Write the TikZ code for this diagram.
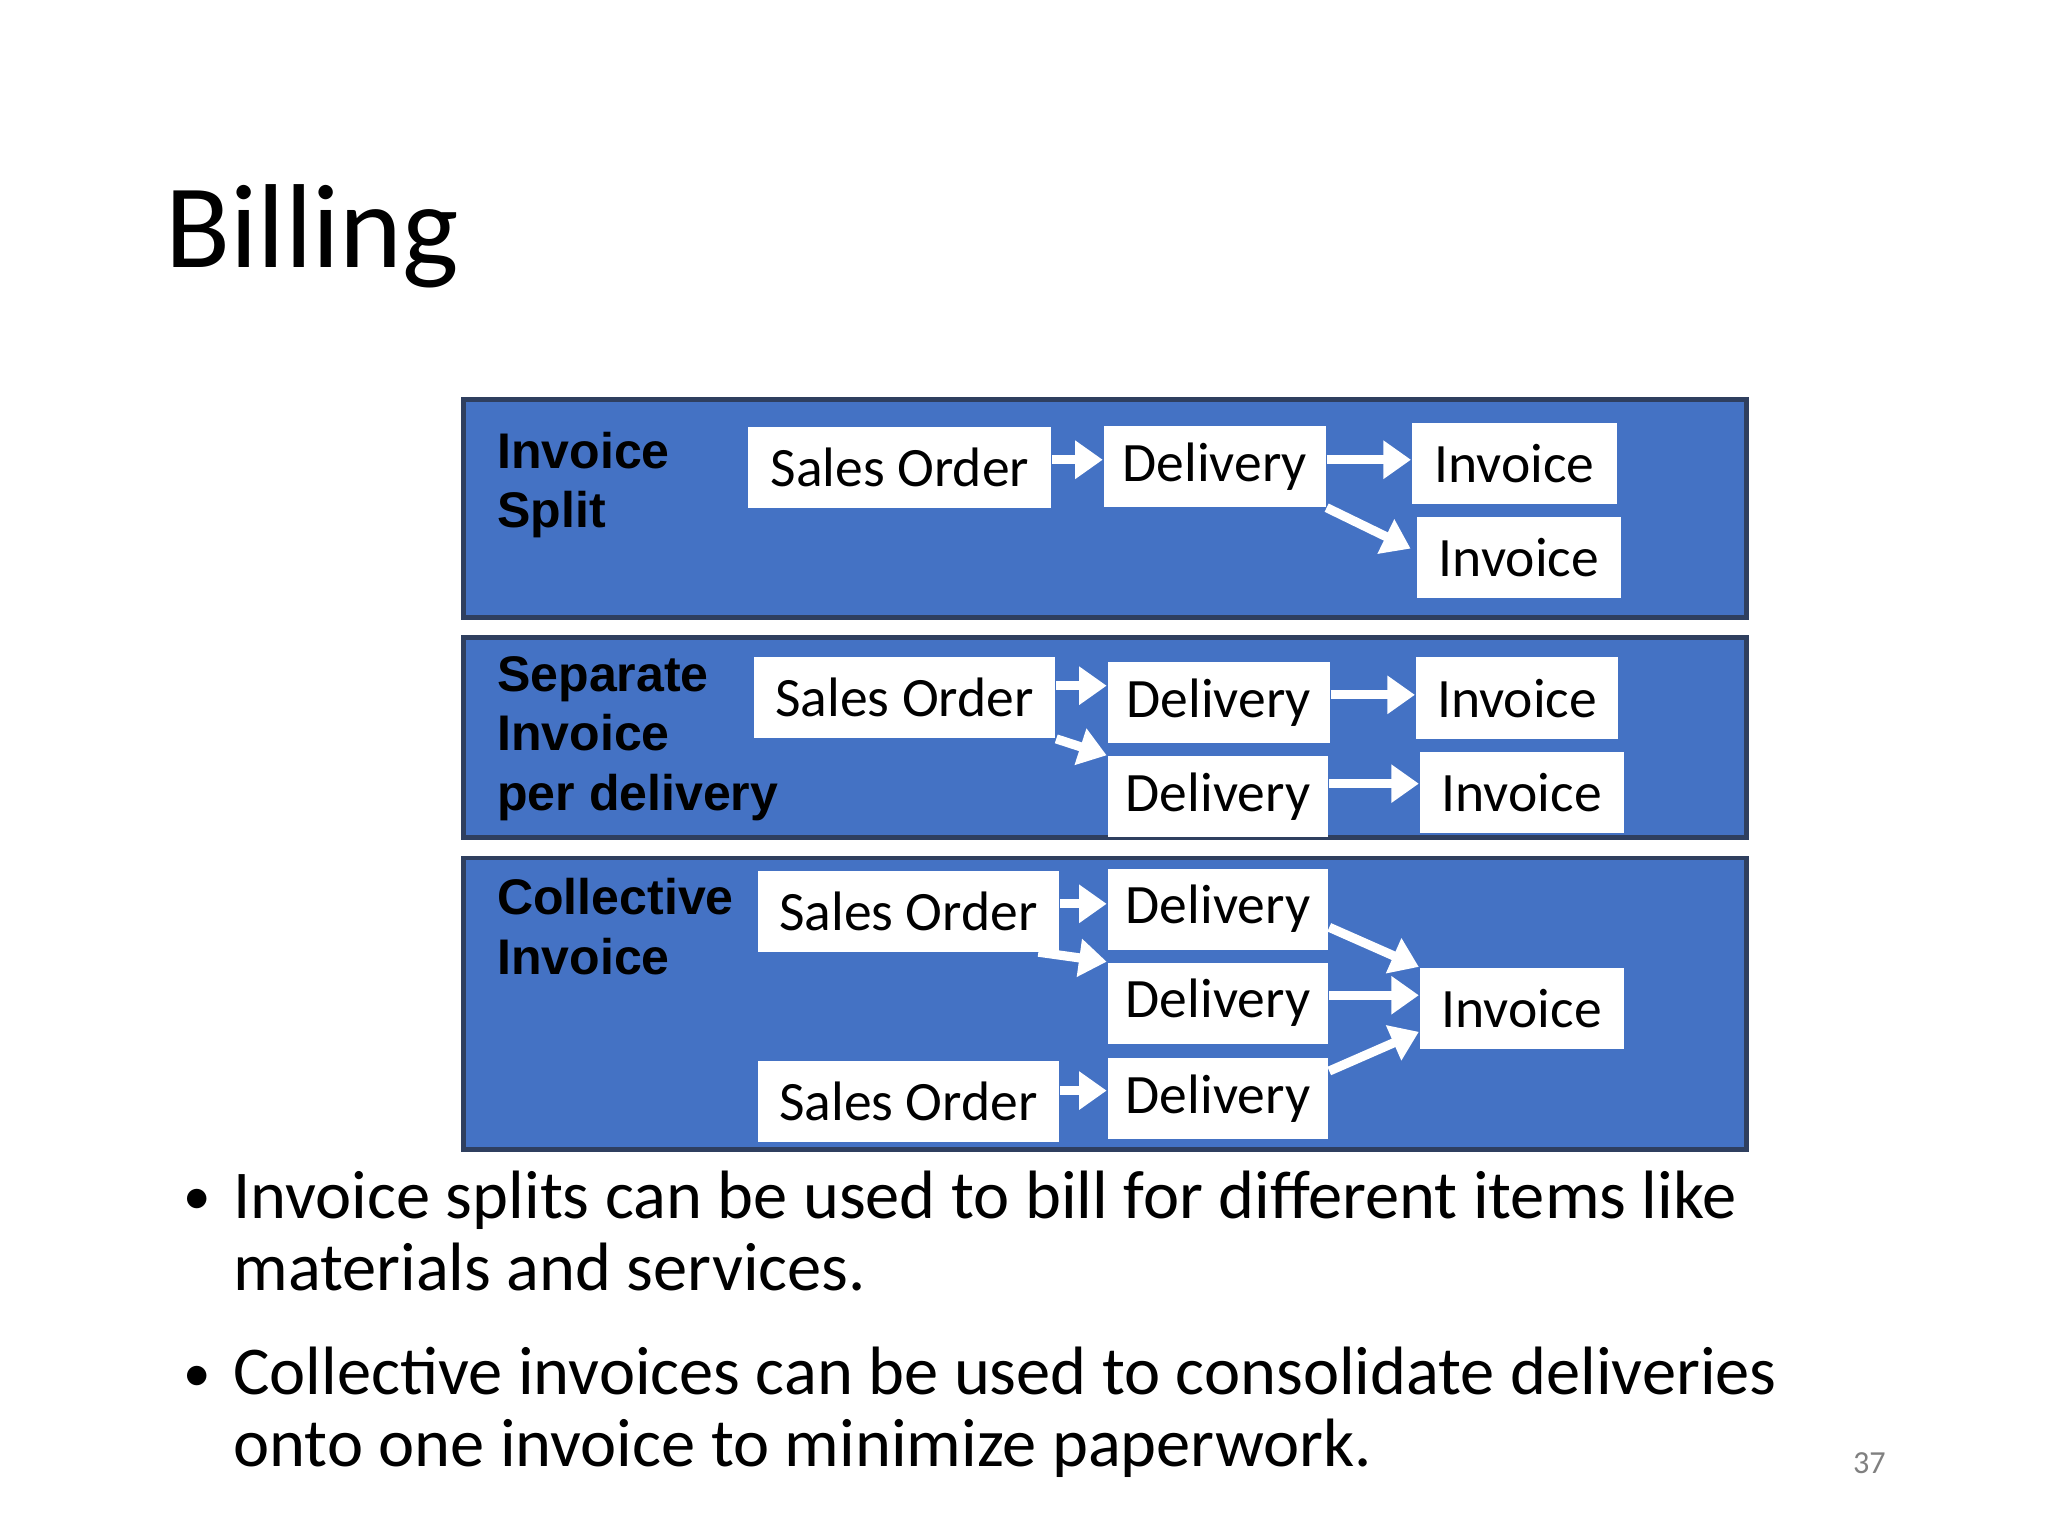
\documentclass[tikz,border=0pt]{standalone}
\usepackage{fontspec}
\setmainfont{Carlito}
\newfontfamily\arialb[Scale=1]{Liberation Sans Bold}
\usetikzlibrary{arrows.meta}
\definecolor{panelblue}{HTML}{4472C4}
\definecolor{paneledge}{HTML}{2F3F5F}
\tikzset{
  panel/.style={draw=paneledge,line width=1pt,fill=panelblue},
  wbox/.style={fill=white,draw=none,inner sep=0pt,font=\fontsize{12.1}{14}\selectfont},
  plabel/.style={anchor=north west,align=left,inner sep=0pt,font=\arialb\fontsize{10.9}{12.9}\selectfont},
  warrow/.style={draw=white,line width=2pt,-{Triangle[length=6pt,width=8pt]}},
}
\newcommand{\bx}[6]{\node[wbox,minimum width={(#4-#2)*0.01cm},minimum height={(#5-#3)*0.01cm}] (#1) at ({(#2+#4)/2},{(#3+#5)/2}) {#6};}
\begin{document}
\begin{tikzpicture}[x=0.01cm,y=-0.01cm]
\useasboundingbox[fill=white] (0,0) rectangle (1568,1176);
\node[anchor=base west,inner sep=0pt,font=\fontsize{26}{28}\selectfont] (title) at (126,205) {Billing};
% panels
\draw[panel] (355,306) rectangle (1337,473);
\draw[panel] (355,488) rectangle (1337,641);
\draw[panel] (355,657) rectangle (1337,880);
\node[plabel] (l1) at (380,330) {Invoice\\Split};
\node[plabel] (l2) at (380,502) {Separate\\Invoice\\per delivery};
\node[plabel] (l3) at (380,672) {Collective\\Invoice};
% panel 1
\bx{a1}{573}{327}{805}{389}{Sales Order}
\bx{a2}{845}{326}{1015}{388}{Delivery}
\bx{a3}{1081}{324}{1238}{386}{Invoice}
\bx{a4}{1085}{396}{1241}{458}{Invoice}
\coordinate (a4in) at (1080,420);
\draw[warrow] (a1.east |- 0,352) -- (a2.west |- 0,352);
\draw[warrow] (a2.east |- 0,352) -- (a3.west |- 0,352);
\draw[warrow] (a2.south east) -- (a4in);
% panel 2
\bx{b1}{577}{503}{808}{565}{Sales Order}
\bx{b2}{848}{507}{1018}{569}{Delivery}
\bx{b3}{848}{579}{1017}{641}{Delivery}
\bx{b4}{1084}{503}{1239}{566}{Invoice}
\bx{b5}{1087}{576}{1243}{638}{Invoice}
\draw[warrow] (b1.east |- 0,525) -- (b2.west |- 0,525);
\draw[warrow] (b1.south east) -- (b3.north west);
\draw[warrow] (b2.east |- 0,532) -- (b4.west |- 0,532);
\draw[warrow] (b3.east |- 0,600) -- (b5.west |- 0,600);
% panel 3
\bx{c1}{580}{667}{811}{729}{Sales Order}
\bx{c2}{848}{665}{1017}{727}{Delivery}
\bx{c3}{848}{737}{1017}{799}{Delivery}
\bx{c4}{580}{812}{811}{874}{Sales Order}
\bx{c5}{848}{810}{1017}{872}{Delivery}
\bx{c6}{1087}{741}{1243}{803}{Invoice}
\draw[warrow] (c1.east |- 0,692) -- (c2.west |- 0,692);
\draw[warrow] (795,729) -- (c3.north west);
\draw[warrow] (c4.east |- 0,835) -- (c5.west |- 0,835);
\draw[warrow] (c2.east |- 0,710) -- (c6.north west);
\draw[warrow] (c3.east |- 0,762) -- (c6.west |- 0,762);
\draw[warrow] (c5.east |- 0,820) -- (c6.west |- 0,790);
% bullets
\tikzset{btxt/.style={anchor=base west,inner sep=0pt,align=left,font=\fontsize{14.9}{15.8}\selectfont}}
\node[btxt,font=\fontsize{12}{12}\selectfont] (d1) at (140,930) {•};
\node[btxt] (t1) at (178,933) {Invoice splits can be used to bill for different items like};
\node[btxt] (t1b) at (178,988) {materials and services.};
\node[btxt,font=\fontsize{12}{12}\selectfont] (d2) at (140,1065) {•};
\node[btxt] (t2) at (178,1068) {Collective invoices can be used to consolidate deliveries};
\node[btxt] (t2b) at (178,1123) {onto one invoice to minimize paperwork.};
\node[anchor=base west,inner sep=0pt,text=gray,font=\fontsize{7}{8}\selectfont] (pg) at (1418,1128) {37};
\end{tikzpicture}
\end{document}
